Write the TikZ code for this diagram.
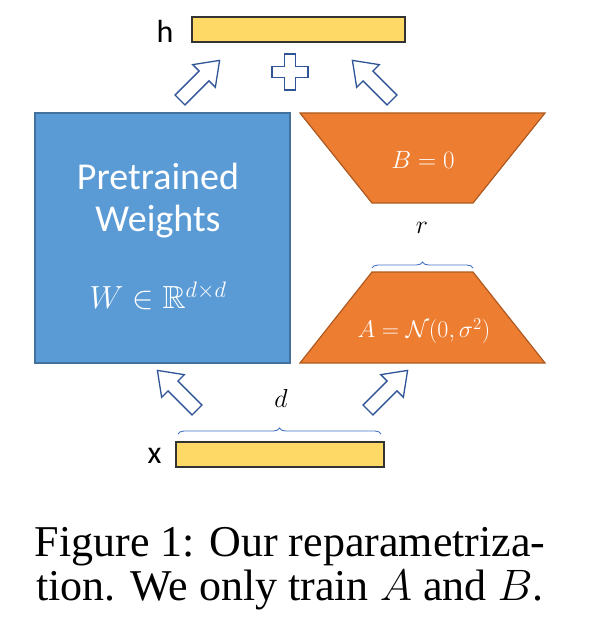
\documentclass[tikz,border=0pt]{standalone}
\usepackage{fix-cm}
\usepackage{fontspec}
\usepackage{amsmath,amssymb}
\setmainfont{Liberation Serif}
\newfontfamily\carlitofont{Carlito}
\usetikzlibrary{decorations.pathreplacing}
\definecolor{wblue}{HTML}{5B9BD5}
\definecolor{wblueD}{HTML}{41719C}
\definecolor{org}{HTML}{ED7D31}
\definecolor{orgD}{HTML}{AE5A21}
\definecolor{yel}{HTML}{FFD966}
\definecolor{navy}{HTML}{2F5597}
\definecolor{brc}{HTML}{4472C4}
\tikzset{
 bar/.style={fill=yel,draw=black!80,line width=1.2pt},
 blk/.style={fill=white,draw=navy,line width=1.3pt,line join=miter},
 brc/.style={draw=brc,line width=0.9pt,decorate,decoration={brace,amplitude=6pt}},
 wt/.style={text=white,font=\carlitofont\fontsize{38}{44}\selectfont},
}
\newcommand{\blockarrow}[3]{% x,y of tail center, angle
 \begin{scope}[shift={(#1,#2)},rotate=#3]
 \draw[blk] (0,-7)--(34,-7)--(34,-16)--(56,0)--(34,16)--(34,7)--(0,7)--cycle;
 \end{scope}}
\begin{document}
\begin{tikzpicture}[x=1pt,y=-1pt]
\useasboundingbox (0,0) rectangle (600,639);
% bars
\node[bar,minimum width=213pt,minimum height=25pt,inner sep=0] (h) at (298.5,29.5) {};
\node[bar,minimum width=208pt,minimum height=25pt,inner sep=0] (x) at (280,454.5) {};
\node[font=\carlitofont\fontsize{32}{36}\selectfont,anchor=east] (hl) at (177,31) {h};
\node[font=\carlitofont\fontsize{32}{36}\selectfont,anchor=east] (xl) at (165,456) {x};
% W
\node[fill=wblue,draw=wblueD,line width=1.2pt,minimum width=255pt,minimum height=250pt,inner sep=0] (W) at (162.5,238) {};
\node[wt] (t1) at (158,176) {Pretrained};
\node[wt] (t2) at (158,222) {Weights};
\node[text=white,font=\fontsize{32}{36}\selectfont] (t3) at (158,296) {$W\in\mathbb{R}^{d\times d}$};
% B
\draw[fill=org,draw=orgD,line width=1.2pt] (300,113)--(545,113)--(473,203)--(372,203)--cycle;
\node[text=white,font=\fontsize{25}{28}\selectfont] (Bt) at (423,160) {$B=0$};
% A
\draw[fill=org,draw=orgD,line width=1.2pt] (372,272)--(473,272)--(545,363)--(300,363)--cycle;
\node[text=white,font=\fontsize{24}{28}\selectfont] (At) at (424,331) {$A=\mathcal{N}(0,\sigma^2)$};
% braces
\coordinate (r1) at (372,268); \coordinate (r2) at (473,268);
\draw[brc] (r1)--(r2);
\node[font=\fontsize{26}{28}\selectfont] (rl) at (422,228) {$r$};
\coordinate (d1) at (178,434); \coordinate (d2) at (381,434);
\draw[brc] (d1)--(d2);
\node[font=\fontsize{26}{28}\selectfont] (dl) at (281,398) {$d$};
% block arrows
\blockarrow{180}{100}{45}
\blockarrow{392}{100}{135}
\blockarrow{197}{410}{135}
\blockarrow{368}{410}{45}
% plus
\begin{scope}[shift={(290,72)}]
\draw[blk] (-5.5,-18)--(5.5,-18)--(5.5,-5.5)--(18,-5.5)--(18,5.5)--(5.5,5.5)--(5.5,18)--(-5.5,18)--(-5.5,5.5)--(-18,5.5)--(-18,-5.5)--(-5.5,-5.5)--cycle;
\end{scope}
% caption
\node[font=\fontsize{44}{50}\selectfont] (c1) at (290,547) {Figure 1: Our reparametriza-};
\node[font=\fontsize{44}{50}\selectfont] (c2) at (290,590) {tion. We only train $A$ and $B$.};
\end{tikzpicture}
\end{document}
